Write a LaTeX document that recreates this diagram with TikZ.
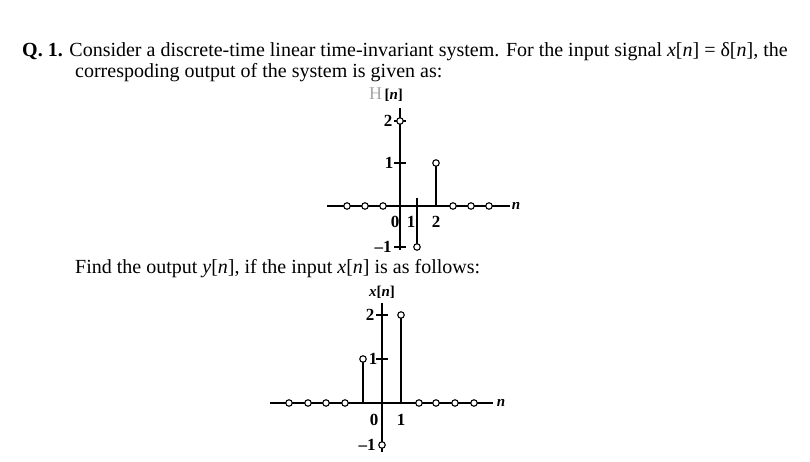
\documentclass[tikz,border=0pt]{standalone}
\usepackage{fontspec}
\setmainfont{Liberation Serif}
\begin{document}
\begin{tikzpicture}[x=1pt,y=-1pt,
  txt/.style={anchor=base west,inner sep=0pt,font=\fontsize{20}{24}\selectfont},
  lab/.style={inner sep=0pt,font=\bfseries\fontsize{17}{19}\selectfont},
  ax/.style={line width=1.1pt},
  stem/.style={line width=2.4pt},
  dot/.style={circle,draw,line width=1.1pt,fill=white,inner sep=0pt,minimum size=6.5pt}]
\useasboundingbox (0,0) rectangle (810,462);
\node[txt] (t1) at (22,57) {\textbf{Q. 1.} Consider a discrete-time linear time-invariant system. For the input signal \textit{x}[\textit{n}] = δ[\textit{n}], the};
\node[txt] (t2) at (75,78) {correspoding output of the system is given as:};
\node[txt] (t3) at (75,273) {Find the output \textit{y}[\textit{n}], if the input \textit{x}[\textit{n}] is as follows:};
% top plot
\draw[ax] (327,206) -- (510,206);
\node[lab,font=\bfseries\itshape\fontsize{15}{15}\selectfont] (n1) at (516,206) {n};
\draw[ax] (400,250) -- (400,108);
\foreach \yy in {121,163,247} \draw[ax] (394,\yy) -- (406,\yy);
\node[lab] (l2) at (388,121) {2};
\node[lab] (l1) at (389,163) {1};
\node[lab] (lm1) at (383,247) {\textendash1};
\node[lab] (l0) at (395,222) {0};
\node[lab] (l1b) at (411,222) {1};
\node[lab] (l2b) at (436,222) {2};
\node[inner sep=0pt] (H) at (386,95) {\textcolor{gray!70}{\fontsize{18}{18}\selectfont H}\ \textbf{\fontsize{15}{16}\selectfont[\textit{n}]}};
\draw[stem] (400,206) -- (400,121);
\draw[stem] (417,198) -- (417,247);
\draw[stem] (436,206) -- (436,163);
\node[dot] (a0) at (400,121) {};
\node[dot] (a1) at (417,247) {};
\node[dot] (a2) at (436,163) {};
\foreach \xx in {347,365,383,453,471,489} \node[dot] at (\xx,206) {};
% bottom plot
\draw[ax] (270,403) -- (493,403);
\node[lab,font=\bfseries\itshape\fontsize{15}{15}\selectfont] (n2) at (501,403) {n};
\draw[ax] (382,303) -- (382,452);
\foreach \yy in {315,359} \draw[ax] (376,\yy) -- (388,\yy);
\node[lab] (m2) at (370,315) {2};
\node[lab] (m1) at (373,359) {1};
\node[lab] (mm1) at (367,445) {\textendash1};
\node[lab] (m0) at (374,420) {0};
\node[lab] (m1b) at (401,420) {1};
\node[inner sep=0pt] (X) at (382,292) {\bfseries\fontsize{15}{16}\selectfont\textit{x}[\textit{n}]};
\draw[stem] (363,403) -- (363,359);
\draw[stem] (401,403) -- (401,315);
\node[dot] (b0) at (363,359) {};
\node[dot] (b1) at (401,315) {};
\node[dot] (b2) at (382,445) {};
\foreach \xx in {289,308,326,345,419,436,455,474} \node[dot] at (\xx,403) {};
\end{tikzpicture}
\end{document}
